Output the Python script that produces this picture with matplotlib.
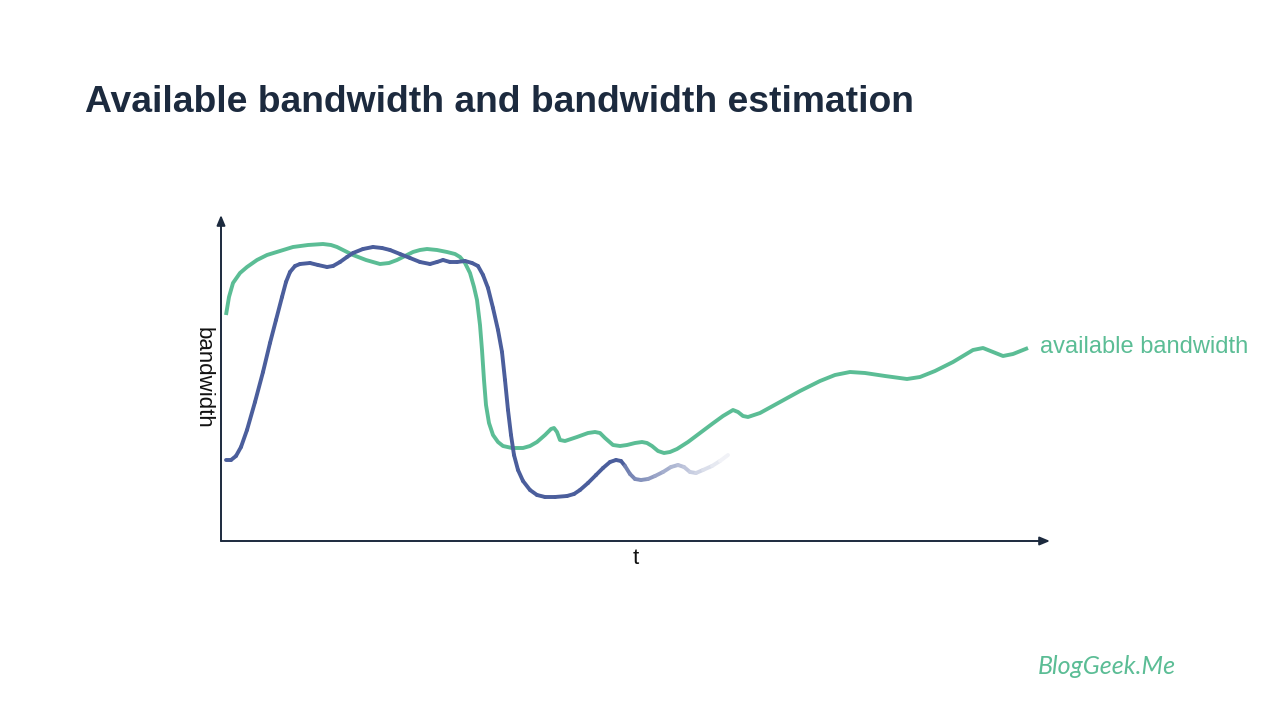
import numpy as np
import matplotlib.pyplot as plt
from matplotlib.collections import LineCollection
from matplotlib.colors import to_rgb

# available bandwidth (green)
avail_t = [0.5, 0.8, 1.2, 1.9, 2.6, 3.6, 4.6, 5.9, 7.2, 8.7, 10.2, 11.0, 11.6, 12.4, 13.2,
           14.5, 15.9, 16.8, 17.6, 18.4, 19.2, 19.9, 20.6, 21.6, 22.6, 23.4, 23.9, 24.4, 24.9,
           25.3, 25.6, 25.9, 26.1, 26.3, 26.5, 26.8, 27.2, 27.7, 28.2, 29.1, 30.2, 30.9, 31.6,
           32.4, 33.0, 33.3, 33.6, 33.9, 34.4, 35.6, 36.7, 37.4, 37.9, 38.4, 39.2, 39.9, 40.6,
           41.4, 42.1, 42.6, 43.1, 43.7, 44.3, 44.9, 45.6, 46.7, 47.9, 49.1, 50.2, 51.2, 51.7,
           52.2, 52.7, 53.9, 55.9, 57.9, 59.9, 61.4, 62.9, 64.4, 66.4, 68.6, 69.9, 71.4, 73.2,
           75.2, 76.2, 77.2, 78.2, 79.2, 80.7]
avail_bw = [22.6, 24.4, 25.8, 26.8, 27.4, 28.1, 28.6, 29.0, 29.4, 29.6, 29.7, 29.6, 29.4, 29.0, 28.6,
            28.1, 27.7, 27.8, 28.1, 28.5, 28.9, 29.1, 29.2, 29.1, 28.9, 28.7, 28.4, 27.8, 26.8,
            25.4, 24.1, 21.6, 19.1, 16.1, 13.6, 11.8, 10.6, 9.9, 9.5, 9.3, 9.3, 9.5, 9.9,
            10.6, 11.2, 11.3, 10.9, 10.1, 10.0, 10.4, 10.8, 10.9, 10.8, 10.3, 9.6, 9.5, 9.6,
            9.8, 9.9, 9.8, 9.5, 9.0, 8.8, 8.9, 9.2, 9.9, 10.8, 11.7, 12.5, 13.1, 12.9,
            12.5, 12.4, 12.8, 13.9, 15.0, 16.0, 16.6, 16.9, 16.8, 16.5, 16.2, 16.4, 17.0, 17.9,
            19.1, 19.3, 18.9, 18.5, 18.7, 19.3]

# bandwidth estimation (blue)
est_t = [0.5, 1.0, 1.5, 2.0, 2.6, 3.4, 4.2, 4.9, 5.5, 6.1, 6.5, 6.9, 7.4, 7.9, 8.9, 9.7, 10.6,
         11.2, 11.9, 12.6, 13.2, 14.2, 15.2, 16.1, 16.9, 17.9, 18.9, 19.9, 20.9, 21.6, 22.2,
         22.9, 23.6, 24.4, 25.1, 25.7, 26.2, 26.7, 27.2, 27.7, 28.1, 28.4, 28.7, 29.0, 29.3,
         29.7, 30.2, 30.9, 31.6, 32.4, 33.4, 34.6, 35.3, 35.9, 36.7, 37.5, 38.2, 38.9, 39.5,
         40.0, 40.4, 40.9, 41.4, 42.0, 42.7, 43.4, 44.2, 45.0, 45.7, 46.3, 46.9, 47.5, 48.2,
         49.1, 49.9, 50.7]
est_bw = [8.1, 8.1, 8.5, 9.4, 11.1, 13.9, 16.9, 19.8, 22.1, 24.4, 25.9, 26.9, 27.5, 27.7, 27.8,
          27.6, 27.4, 27.5, 27.9, 28.4, 28.8, 29.2, 29.4, 29.3, 29.1, 28.7, 28.3, 27.9, 27.7,
          27.9, 28.1, 27.9, 27.9, 28.0, 27.8, 27.5, 26.6, 25.3, 23.3, 21.1, 18.9, 16.1, 13.1,
          10.6, 8.6, 7.1, 6.0, 5.1, 4.6, 4.4, 4.4, 4.5, 4.7, 5.1, 5.8, 6.6, 7.3, 7.9, 8.1,
          8.0, 7.5, 6.7, 6.2, 6.1, 6.2, 6.5, 6.9, 7.4, 7.6, 7.4, 6.9, 6.8, 7.1, 7.5, 8.0, 8.6]

title = "Available bandwidth and bandwidth estimation"
green = "#5bbd95"
blue = "#4b5e9c"
dark = "#1c2a3e"

plt.rcParams['font.family'] = ['Liberation Sans', 'DejaVu Sans']

fig = plt.figure(figsize=(12.8, 7.2), dpi=100)
fig.text(85 / 1280, 1 - 103 / 720, title, fontsize=26.8, fontweight='bold', color=dark,
         va='center', ha='left')

ax = fig.add_axes([221 / 1280, (720 - 541) / 720, 829 / 1280, 326 / 720])
ax.set_xlim(0, 82.9)
ax.set_ylim(0, 32.6)
for s in ax.spines.values():
    s.set_visible(False)
ax.set_xticks([])
ax.set_yticks([])
ax.patch.set_alpha(0)

# axes arrows
arrow = dict(arrowstyle='-|>,head_length=0.6,head_width=0.25', color=dark, lw=1.4,
             shrinkA=0, shrinkB=0)
ax.annotate('', xy=(1, 0), xytext=(0, 0), xycoords='axes fraction', arrowprops=arrow)
ax.annotate('', xy=(0, 1), xytext=(0, 0), xycoords='axes fraction', arrowprops=arrow)

ax.plot(avail_t, avail_bw, color=green, lw=2.8, solid_capstyle='butt', solid_joinstyle='round')

# estimation line fades out towards the end
pts = np.column_stack([est_t, est_bw])
segs = np.stack([pts[:-1], pts[1:]], axis=1)
mid = (pts[:-1, 0] + pts[1:, 0]) / 2
fade = np.clip((mid - 40.5) / (50.7 - 40.5), 0, 1)
fade = 0.2 + 0.75 * fade
fade[mid < 40.5] = 0
base = np.array(to_rgb(blue))
cols = base[None, :] * (1 - fade[:, None]) + fade[:, None]
lc = LineCollection(segs, colors=cols, linewidths=2.8, capstyle='round', joinstyle='round')
ax.add_collection(lc)

fig.text(1040 / 1280, 1 - 347 / 720, "available bandwidth", fontsize=17, color=green,
         va='center', ha='left')
fig.text(636 / 1280, 1 - 558 / 720, "t", fontsize=16, color='#111111', ha='center', va='center')
fig.text(203 / 1280, 1 - 378 / 720, "bandwidth", fontsize=16, color='#111111', ha='center',
         va='center', rotation=-90)

fig.text(1107 / 1280, 1 - 667 / 720, "BlogGeek.Me", fontsize=18, color=green, ha='center',
         va='center', family=['Lato', 'DejaVu Sans'], style='italic')

fig.savefig("out.png", dpi=100, facecolor='white')
